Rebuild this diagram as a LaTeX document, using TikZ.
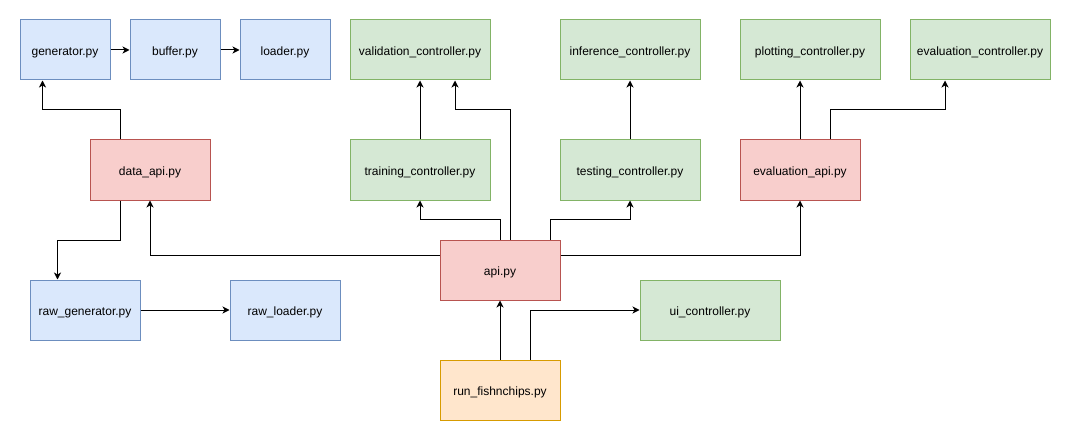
\documentclass[tikz,border=0pt]{standalone}
\usepackage{fontspec}
\setmainfont{Liberation Sans}
\usetikzlibrary{arrows.meta}

\definecolor{blueFill}{HTML}{DAE8FC}
\definecolor{blueLine}{HTML}{6C8EBF}
\definecolor{greenFill}{HTML}{D5E8D4}
\definecolor{greenLine}{HTML}{82B366}
\definecolor{redFill}{HTML}{F8CECC}
\definecolor{redLine}{HTML}{B85450}
\definecolor{orangeFill}{HTML}{FFE6CC}
\definecolor{orangeLine}{HTML}{D79B00}

\tikzset{
  pyfile/.style={draw, line width=1pt, minimum height=60pt, inner sep=0pt,
    text height=11pt, text depth=0pt, font=\fontsize{12}{14}\selectfont},
  datafile/.style={pyfile, fill=blueFill, draw=blueLine},
  ctrlfile/.style={pyfile, fill=greenFill, draw=greenLine, minimum width=140pt},
  apifile/.style={pyfile, fill=redFill, draw=redLine, minimum width=120pt},
  runfile/.style={pyfile, fill=orangeFill, draw=orangeLine, minimum width=120pt},
  arr/.style={-{Stealth[length=7pt,width=7pt,inset=2pt]}, line width=1pt}
}

\begin{document}
\begin{tikzpicture}[x=1pt, y=-1pt]
\useasboundingbox (0,0) rectangle (1071,441);
\node[datafile, minimum width=90pt] (generator) at (65,50) {generator.py};
\node[datafile, minimum width=90pt] (buffer) at (175,50) {buffer.py};
\node[datafile, minimum width=90pt] (loader) at (285,50) {loader.py};
\node[ctrlfile] (validation) at (420,50) {validation\_controller.py};
\node[ctrlfile] (inference) at (630,50) {inference\_controller.py};
\node[ctrlfile] (plotting) at (810,50) {plotting\_controller.py};
\node[ctrlfile] (evalctrl) at (980,50) {evaluation\_controller.py};
\node[apifile] (dataapi) at (150,170) {data\_api.py};
\node[ctrlfile] (training) at (420,170) {training\_controller.py};
\node[ctrlfile] (testing) at (630,170) {testing\_controller.py};
\node[apifile] (evalapi) at (800,170) {evaluation\_api.py};
\node[apifile] (api) at (500,270) {api.py};
\node[datafile, minimum width=110pt] (rawgen) at (85,310) {raw\_generator.py};
\node[datafile, minimum width=110pt] (rawload) at (285,310) {raw\_loader.py};
\node[ctrlfile] (uictrl) at (710,310) {ui\_controller.py};
\node[runfile] (run) at (500,390) {run\_fishnchips.py};

\draw[arr] (generator) -- (buffer);
\draw[arr] (buffer) -- (loader);
\draw[arr] ([xshift=-30pt]dataapi.north) -- ++(0,-30) -| ([xshift=-22.5pt]generator.south);
\draw[arr] ([xshift=-30pt]dataapi.south) -- ++(0,40) -| ([xshift=-27.5pt]rawgen.north);
\draw[arr] (rawgen) -- (rawload);
\draw[arr] ([yshift=15pt]api.west) -| (dataapi.south);
\draw[arr] ([yshift=15pt]api.east) -| (evalapi.south);
\draw[arr] (api.north) -- ++(0,-20) -| (training.south);
\draw[arr] ([xshift=10pt]api.north) -- ++(0,-130) -| ([xshift=35pt]validation.south);
\draw[arr] ([xshift=50pt]api.north) -- ++(0,-20) -| (testing.south);
\draw[arr] (training) -- (validation);
\draw[arr] (testing) -- (inference);
\draw[arr] (evalapi.north) -- (evalapi.north |- plotting.south);
\draw[arr] ([xshift=30pt]evalapi.north) -- ++(0,-30) -| ([xshift=-35pt]evalctrl.south);
\draw[arr] (run) -- (api);
\draw[arr] ([xshift=30pt]run.north) |- (uictrl.west);
\end{tikzpicture}
\end{document}
